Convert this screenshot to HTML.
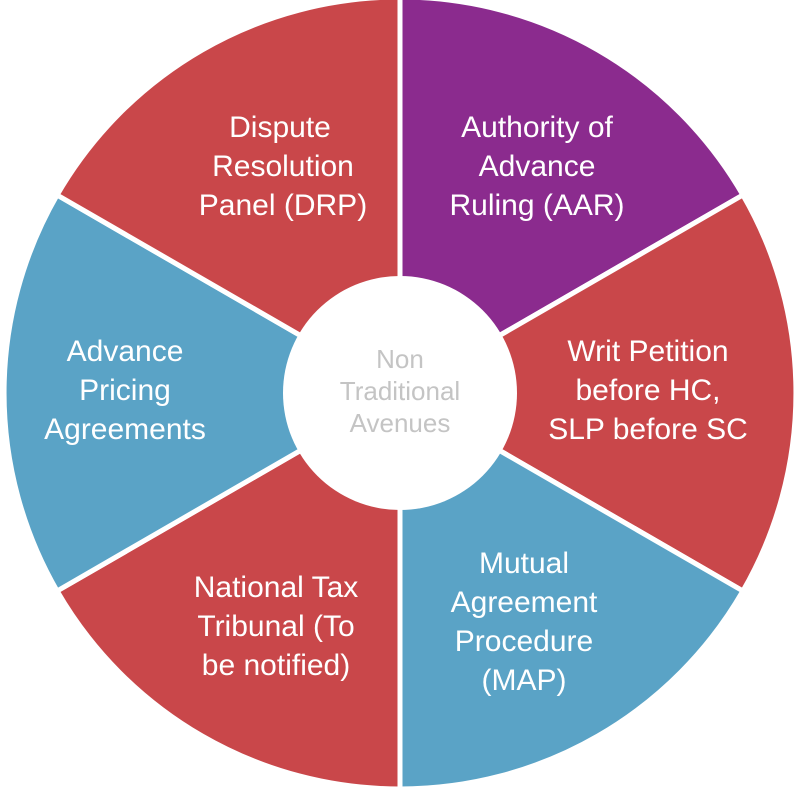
<!DOCTYPE html><html><head><style>body{margin:0;background:#fff}svg{display:block}</style></head><body>
<svg width="800" height="791" viewBox="0 0 800 791" xmlns="http://www.w3.org/2000/svg">
<g transform="translate(400,393)" stroke="#fff" stroke-width="5">
<path d="M0,0 L0,-396 A396,396 0 0 1 342.9,-198 Z" fill="#8b2b8e"/>
<path d="M0,0 L342.9,-198 A396,396 0 0 1 342.9,198 Z" fill="#c9474a"/>
<path d="M0,0 L342.9,198 A396,396 0 0 1 0,396 Z" fill="#5aa3c6"/>
<path d="M0,0 L0,396 A396,396 0 0 1 -342.9,198 Z" fill="#c9474a"/>
<path d="M0,0 L-342.9,198 A396,396 0 0 1 -342.9,-198 Z" fill="#5aa3c6"/>
<path d="M0,0 L-342.9,-198 A396,396 0 0 1 0,-396 Z" fill="#c9474a"/>
<circle r="117" fill="#fff" stroke="none"/>
</g>
<g font-family="Liberation Sans, sans-serif" font-size="30" fill="#fff" text-anchor="middle" textLength="">
<text x="280" y="137">Dispute</text><text x="283" y="176">Resolution</text><text x="283" y="215">Panel (DRP)</text>
<text x="537" y="137">Authority of</text><text x="537" y="176">Advance</text><text x="537" y="215">Ruling (AAR)</text>
<text x="648" y="361">Writ Petition</text><text x="648" y="400">before HC,</text><text x="648" y="439">SLP before SC</text>
<text x="125" y="361">Advance</text><text x="125" y="400">Pricing</text><text x="125" y="439">Agreements</text>
<text x="276" y="597">National Tax</text><text x="276" y="636">Tribunal (To</text><text x="276" y="675">be notified)</text>
<text x="524" y="573">Mutual</text><text x="524" y="612">Agreement</text><text x="524" y="651">Procedure</text><text x="524" y="690">(MAP)</text>
</g>
<g font-family="Liberation Sans, sans-serif" font-size="26" fill="#c4c4c4" text-anchor="middle">
<text x="400" y="368">Non</text><text x="400" y="400">Traditional</text><text x="400" y="432">Avenues</text>
</g>
</svg></body></html>
